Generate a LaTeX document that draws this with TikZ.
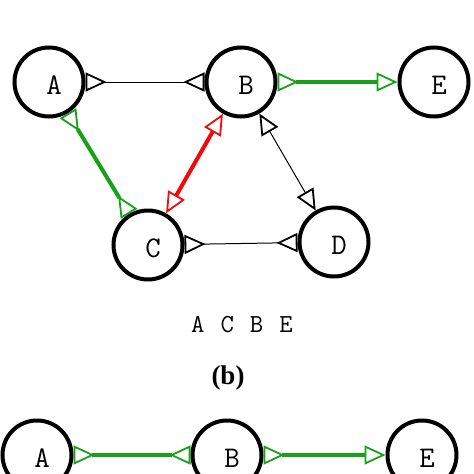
\documentclass[tikz,border=0pt]{standalone}
\usepackage{fontspec}
\usetikzlibrary{arrows.meta}
\newfontfamily\captionfont{Liberation Serif}
\definecolor{egreen}{RGB}{25,160,25}
\definecolor{ered}{RGB}{240,10,10}
\tikzset{
  vtx/.style={circle, draw=black, line width=4pt, minimum size=69pt, inner sep=0pt,
    label={[xshift=5pt,yshift=-3.5pt,font=\fontsize{30}{30}\selectfont\ttfamily]center:#1}},
  tri/.tip={Triangle[open,length=21pt,width=19pt,line width=1.8pt]},
  itri/.tip={Triangle[open,reversed,length=21pt,width=19pt,line width=1.8pt]},
  thinedge/.style={line width=1pt, draw=black},
  greenedge/.style={line width=4pt, draw=egreen},
  rededge/.style={line width=4pt, draw=ered},
  seqtext/.style={font=\fontsize{26}{26}\selectfont\ttfamily, inner sep=0pt},
  captext/.style={font=\fontsize{27}{27}\selectfont\captionfont\bfseries, inner sep=0pt}
}
\begin{document}
\begin{tikzpicture}[x=1pt,y=-1pt]
\useasboundingbox (0,0) rectangle (474,474);
\clip (0,0) rectangle (474,474);
% upper graph
\node[vtx=A] (A) at (49,82) {};
\node[vtx=B] (B) at (241,82) {};
\node[vtx=E] (E) at (434,82) {};
\node[vtx=C] (C) at (148,245) {};
\node[vtx=D] (D) at (334,242) {};
\draw[thinedge, {itri}-{itri}] (A) -- (B);
\draw[greenedge, {itri}-{tri}] (B) -- (E);
\draw[greenedge, {itri}-{itri}] (A) -- (C);
\draw[rededge, {tri}-{tri}] (C) -- (B);
\draw[thinedge, {tri}-{tri}] (B) -- (D);
\draw[thinedge, {itri}-{itri}] (C) -- (D);
% sequence and caption
\node[seqtext] (seq) at (242,325) {A\hspace{16pt}C\hspace{16pt}B\hspace{16pt}E};
\node[captext] (cap) at (228,378) {(b)};
% lower graph
\node[vtx=A] (A2) at (37,455) {};
\node[vtx=B] (B2) at (227,455) {};
\node[vtx=E] (E2) at (422,455) {};
\draw[greenedge, {itri}-{itri}] (A2) -- (B2);
\draw[greenedge, {itri}-{tri}] (B2) -- (E2);
\end{tikzpicture}
\end{document}
